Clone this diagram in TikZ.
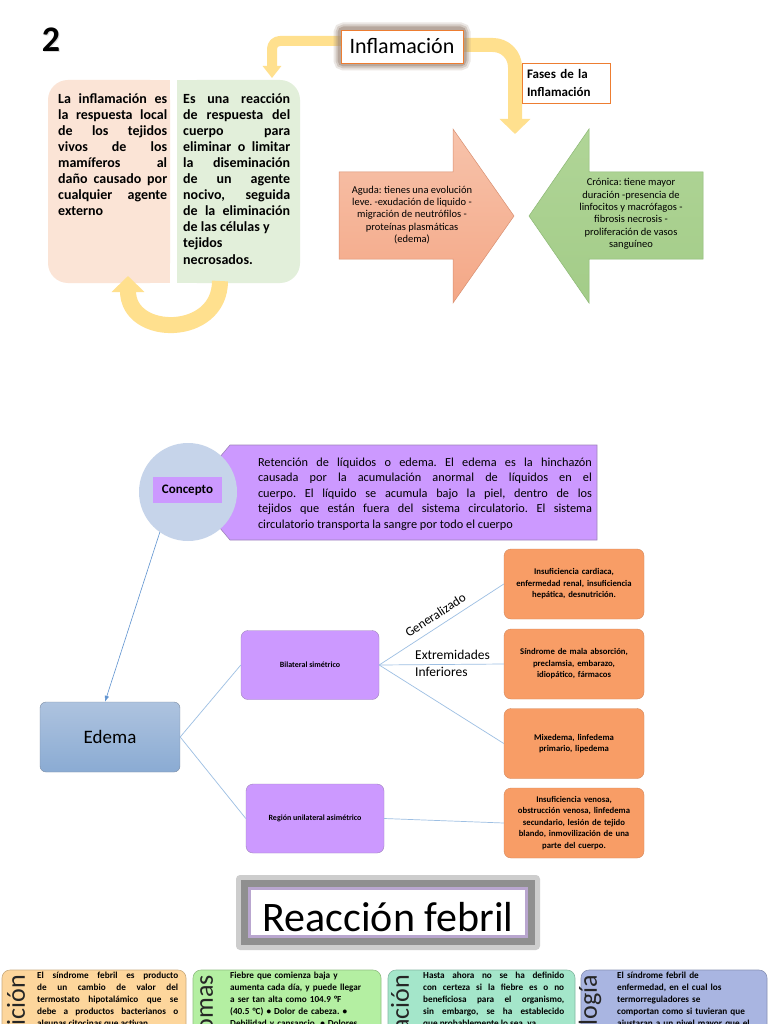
\documentclass[tikz,border=0pt]{standalone}
\usepackage{fontspec}
\setmainfont{Carlito}
\usetikzlibrary{arrows.meta, positioning, shapes.geometric}
\frenchspacing

\definecolor{peachpanel}{HTML}{FBE4D6}
\definecolor{greenpanel}{HTML}{E2EFDA}
\definecolor{bandyellow}{HTML}{FFE08E}
\definecolor{fasesorange}{HTML}{ED7D31}
\definecolor{glowbrown}{HTML}{9C877A}
\definecolor{agudatop}{HTML}{F7C3AB}
\definecolor{agudabot}{HTML}{F4A786}
\definecolor{agudaline}{HTML}{D98F70}
\definecolor{cronicatop}{HTML}{B0D597}
\definecolor{cronicabot}{HTML}{A3CC88}
\definecolor{cronicaline}{HTML}{8CB874}
\definecolor{conceptblue}{HTML}{C6D4EA}
\definecolor{lilac}{HTML}{CC99FF}
\definecolor{lilacline}{HTML}{9E84BA}
\definecolor{edematop}{HTML}{AEC3DF}
\definecolor{edemabot}{HTML}{8AABD3}
\definecolor{edemaline}{HTML}{7D8DA3}
\definecolor{linkblue}{HTML}{9DBFE3}
\definecolor{arrowblue}{HTML}{5F93D0}
\definecolor{leaforange}{HTML}{F89D66}
\definecolor{leafline}{HTML}{D4875A}
\definecolor{cardone}{HTML}{FDD69C}
\definecolor{cardtwo}{HTML}{B4EFA2}
\definecolor{cardthree}{HTML}{A4E6CA}
\definecolor{cardfour}{HTML}{A9B5E1}
\definecolor{titlegrey}{HTML}{8F8F8F}
\definecolor{titlelilac}{HTML}{B9A6CF}

\newcommand{\fsz}[2]{\fontsize{#1}{#2}\selectfont}

\begin{document}
\begin{tikzpicture}[x=1pt, y=-1pt,
  band/.style={draw=bandyellow, line cap=butt, line join=round},
  fasesbox/.style={draw=fasesorange, fill=white, line width=0.9pt, inner sep=0pt},
  paneltext/.style={anchor=north west, inner sep=0pt, text width=#1, align=justify, font=\bfseries\fsz{14}{16.1}},
  arrowtext/.style={inner sep=0pt, align=center, font=\fsz{10.5}{12.3}},
  branch/.style={draw=lilacline, fill=lilac, rounded corners=7pt, minimum width=138pt, minimum height=69pt, inner sep=0pt, font=\bfseries\fsz{8}{10}},
  leaf/.style={draw=leafline, fill=leaforange, rounded corners=7pt, minimum width=140pt, minimum height=70pt, text width=136pt, inner sep=0pt, align=center, font=\bfseries\fsz{8.7}{11.5}},
  link/.style={draw=linkblue, line width=0.7pt},
  card/.style={draw=#1!80!black, fill=#1, rounded corners=8pt, line width=0.6pt},
  cardlabel/.style={rotate=90, anchor=east, inner sep=0pt, text=black!85, font=\fsz{26}{26}},
  cardtext/.style={anchor=north west, inner sep=0pt, text width=#1, font=\bfseries\fsz{9.2}{12}}
]
\useasboundingbox (0,0) rectangle (768,1024);
\clip (0,0) rectangle (768,1024);
\fill[white] (0,0) rectangle (768,1024);

% number
\node[font=\bfseries\fsz{36}{36}, text=black!15, inner sep=0pt] (numshadow) at (52,41) {2};
\node[font=\bfseries\fsz{36}{36}, inner sep=0pt] (num) at (51,40) {2};

% two panels
\fill[peachpanel, rounded corners=20pt] (48,80) rectangle (170,283);
\fill[peachpanel] (120,80) rectangle (170,283);
\fill[greenpanel, rounded corners=20pt] (177,80) rectangle (300,283);
\fill[greenpanel] (177,80) rectangle (230,283);
\node[paneltext=109pt] (local) at (58,93) {La inflamación es\linebreak la respuesta local\linebreak de los tejidos\linebreak vivos de los\linebreak mamíferos al\linebreak daño causado por\linebreak cualquier agente\linebreak externo};
\node[paneltext=107pt] (reaction) at (183,93) {Es una reacción\linebreak de respuesta del\linebreak cuerpo para\linebreak eliminar o limitar\linebreak la diseminación\linebreak de un agente\linebreak nocivo, seguida\linebreak de la eliminación\linebreak de las células y\\ tejidos\\ necrosados.};

% yellow bands
\coordinate (bandleft) at (341,41);
\coordinate (bandright) at (463,45);
\draw[band, line width=10pt, rounded corners=8pt, -{Triangle[width=18pt,length=12pt]}] (bandleft) -- (272,41) -- (272,78);
\draw[band, line width=14pt, rounded corners=22pt, -{Triangle[width=30pt,length=15pt]}] (bandright) -- (515,45) -- (515,134);
\draw[band, line width=16pt, -{Triangle[width=32pt,length=16pt]}] (220,281) .. controls (220,338) and (128,338) .. (128,276);

% title box with glow
\foreach \w/\o in {15/0.2, 11/0.3, 7/0.5}
  \draw[glowbrown, opacity=\o, line width=\w pt, rounded corners=3pt] (341,30) rectangle (463,63);
\node[fasesbox, minimum width=122pt, minimum height=33pt, font=\fsz{22}{22}] (infl) at (402,46.5) {Inflamación};
\node[fasesbox, minimum width=88pt, minimum height=40pt, text width=78pt, align=left, font=\bfseries\fsz{13}{18}] (fases) at (566,83) {Fases de la\\ Inflamación};

% phase arrows
\path[draw=agudaline, top color=agudatop, bottom color=agudabot, line width=0.5pt] (339,172) -- (453,172) -- (453,129) -- (514,216) -- (453,303) -- (453,259) -- (339,259) -- cycle;
\node[arrowtext] (aguda) at (412,215) {Aguda: tienes una evolución\\ leve. -exudación de liquido -\\ migración de neutrófilos -\\ proteínas plasmáticas\\ (edema)};
\path[draw=cronicaline, top color=cronicatop, bottom color=cronicabot, line width=0.5pt] (703,172) -- (589,172) -- (589,129) -- (529,216) -- (589,303) -- (589,259) -- (703,259) -- cycle;
\node[arrowtext] (cronica) at (631,214) {Crónica: tiene mayor\\ duración -presencia de\\ linfocitos y macrófagos -\\ fibrosis necrosis -\\ proliferación de vasos\\ sanguíneo};

% concept
\filldraw[fill=lilac, draw=lilacline, line width=0.6pt] (230,445) -- (597,445) -- (597,540) -- (230,540) -- (190,492.5) -- cycle;
\node[circle, fill=conceptblue, minimum size=98pt, inner sep=0pt] (concept) at (188,492) {};
\node[fill=lilac, minimum width=69pt, minimum height=26pt, inner sep=0pt, font=\bfseries\fsz{13}{13}] (conceptlabel) at (187.5,490) {Concepto};
\node[inner sep=0pt, text width=334pt, align=justify, font=\fsz{12.3}{15.5}] (definition) at (425,494) {Retención de líquidos o edema. El edema es la hinchazón\linebreak causada por la acumulación anormal de líquidos en el\linebreak cuerpo. El líquido se acumula bajo la piel, dentro de los\linebreak tejidos que están fuera del sistema circulatorio. El sistema\linebreak circulatorio transporta la sangre por todo el cuerpo};

% edema tree
\node[draw=edemaline, top color=edematop, bottom color=edemabot, rounded corners=6pt, minimum width=140pt, minimum height=70pt, font=\fsz{19}{19}] (edema) at (110,737) {Edema};
\node[branch] (bilateral) at (310,665) {Bilateral simétrico};
\node[branch] (unilateral) at (315,818.5) {Región unilateral asimétrico};
\node[leaf] (cardiac) at (574,584) {Insuficiencia cardiaca,\\ enfermedad renal, insuficiencia\\ hepática, desnutrición.};
\node[leaf] (malabsorb) at (574,664) {Síndrome de mala absorción,\\ preclamsia, embarazo,\\ idiopático, fármacos};
\node[leaf] (mixedema) at (574,743.5) {Mixedema, linfedema\\ primario, lipedema};
\node[leaf] (venous) at (574,823) {Insuficiencia venosa,\\ obstrucción venosa, linfedema\\ secundario, lesión de tejido\\ blando, inmovilización de una\\ parte del cuerpo.};

\draw[arrowblue, line width=0.6pt, -{Latex[length=6pt,width=4.5pt]}] (concept.235) -- ([xshift=-5pt]edema.north);
\draw[link] (edema.east) -- (bilateral.west);
\draw[link] (edema.east) -- (unilateral.west);
\draw[link] (bilateral.east) -- (cardiac.west) node[midway, sloped, above=3pt, font=\fsz{13}{13}] (generalized) {Generalizado};
\draw[link] (bilateral.east) -- (malabsorb.west);
\draw[link] (bilateral.east) -- (mixedema.west);
\draw[link] (unilateral.east) -- (venous.west);
\node[anchor=north west, inner sep=0pt, align=left, font=\fsz{13.5}{17}] (limbs) at (415,650) {Extremidades\\ Inferiores};

% fever title
\fill[titlegrey!45, rounded corners=4pt] (236,875) rectangle (540,950);
\fill[titlegrey] (241,880) rectangle (535,945);
\fill[titlelilac] (248,887) rectangle (528,938);
\fill[white] (251,890) rectangle (525,935);
\node[anchor=base, inner sep=0pt, font=\fsz{42}{42}] (febril) at (388,931) {Reacción febril};

% cards
\draw[card=cardone] (2,970) rectangle (186,1040);
\draw[card=cardtwo] (193,970) rectangle (381,1040);
\draw[card=cardthree] (388,970) rectangle (575,1040);
\draw[card=cardfour] (581,970) rectangle (767,1040);
\node[cardlabel] (defin) at (16,975) {Definición};
\node[cardlabel] (sympt) at (204,975) {Síntomas};
\node[cardlabel] (interp) at (402,975) {Interpretación};
\node[cardlabel] (physio) at (590,975) {Fisiopatología};
\node[cardtext=141pt, align=justify] (defintext) at (37,972) {\parfillskip=0pt El síndrome febril es producto\linebreak de un cambio de valor del\linebreak termostato hipotalámico que se\linebreak debe a productos bacterianos o\linebreak algunas citocinas que activan};
\node[cardtext=143pt, align=left] (sympttext) at (230,972) {Fiebre que comienza baja y\\ aumenta cada día, y puede llegar\\ a ser tan alta como 104.9 °F\\ (40.5 °C) • Dolor de cabeza. •\\ Debilidad y cansancio. • Dolores};
\node[cardtext=141pt, align=justify] (interptext) at (423,972) {\parfillskip=0pt Hasta ahora no se ha definido\linebreak con certeza si la fiebre es o no\linebreak beneficiosa para el organismo,\linebreak sin embargo, se ha establecido\linebreak que probablemente lo sea, ya};
\node[cardtext=143pt, align=left] (physiotext) at (617,972) {El síndrome febril de\\ enfermedad, en el cual los\\ termorreguladores se\\ comportan como si tuvieran que\\ ajustaran a un nivel mayor que el};
\end{tikzpicture}
\end{document}
